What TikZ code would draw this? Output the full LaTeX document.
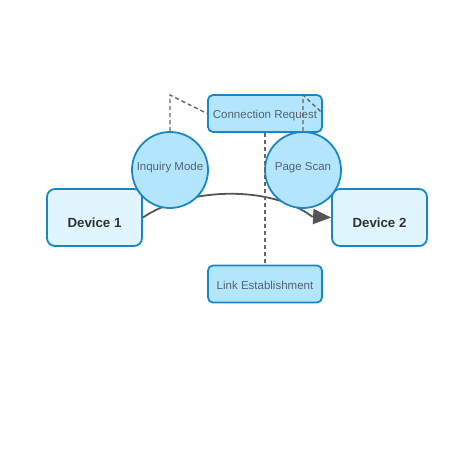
\documentclass[tikz,border=0pt]{standalone}
\usepackage{fontspec}
\setmainfont{Liberation Sans}
\usetikzlibrary{arrows.meta,backgrounds}
\definecolor{bordc}{HTML}{1A86C8}
\definecolor{lightf}{HTML}{E1F5FE}
\definecolor{midf}{HTML}{B3E5FC}
\definecolor{lblc}{HTML}{546470}
\definecolor{devc}{HTML}{2E3238}
\definecolor{edgec}{HTML}{555555}
\tikzset{
  device/.style={draw=bordc, fill=lightf, line width=1.8pt, rounded corners=8pt,
    minimum width=95pt, minimum height=57pt, inner sep=0pt,
    text height=19.9pt, text depth=0pt,
    font=\fontsize{13.3pt}{15pt}\selectfont\bfseries, text=devc},
  phase/.style={draw=bordc, fill=midf, line width=1.8pt, circle,
    minimum size=76pt, inner sep=0pt, text height=1.6pt, text depth=0pt,
    font=\fontsize{11.5pt}{13pt}\selectfont, text=lblc},
  msgbox/.style={draw=bordc, fill=midf, line width=1.8pt, rounded corners=5pt,
    minimum width=114pt, minimum height=37pt, inner sep=0pt, text depth=0pt,
    font=\fontsize{11.5pt}{13pt}\selectfont, text=lblc},
  flow/.style={draw=edgec, line width=1.8pt, -{Triangle[length=18pt,width=15pt]}},
  dashlink/.style={draw=edgec!90, line width=1.4pt, dash pattern=on 4pt off 3pt}
}
\begin{document}
\begin{tikzpicture}[x=1pt,y=-1pt]
\useasboundingbox (0,0) rectangle (474,474);
\node[device] (d1) at (94.5,217.5) {Device 1};
\node[device] (d2) at (379.5,217.5) {Device 2};
\node[phase] (inq) at (170,170) {Inquiry Mode};
\node[phase] (ps) at (303,170) {Page Scan};
\node[msgbox, text height=9.8pt] (cr) at (265,113.5) {Connection Request};
\node[msgbox, text height=10.2pt] (le) at (265,284) {Link Establishment};
\coordinate (c1) at (170,95);
\coordinate (c2) at (303,95);
\begin{scope}[on background layer]
\draw[flow] (d1.east) .. controls (190,186) and (272,186) .. (312,216.5) -- (d2.west);
\end{scope}
\draw[dashlink] (inq.north) -- (c1) -- (cr.west);
\draw[dashlink] (ps.north) -- (c2) -- (cr.east);
\draw[dashlink] (cr.south) -- (le.north);
\end{tikzpicture}
\end{document}
